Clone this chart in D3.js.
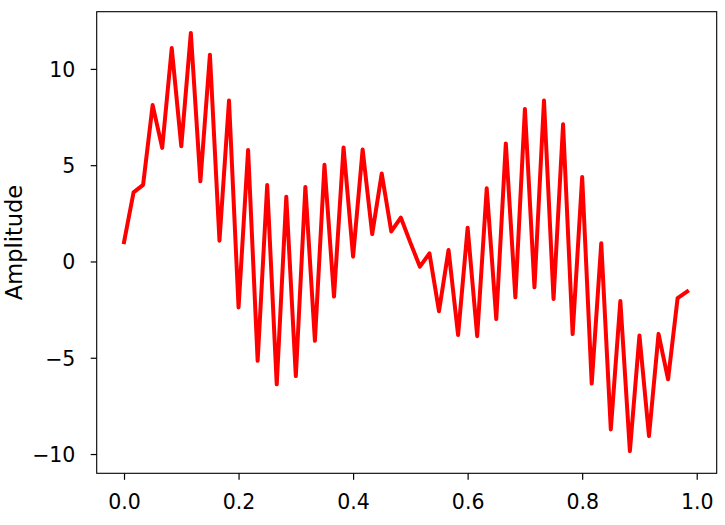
<!DOCTYPE html>
<html>
<head>
<meta charset="utf-8">
<script src="https://cdn.jsdelivr.net/npm/d3@7"></script>
<style>
  html, body { margin: 0; padding: 0; background: #ffffff; }
  svg { display: block; }
  text { font-family: "DejaVu Sans", sans-serif; fill: #000; }
</style>
</head>
<body>
<svg id="chart" width="725" height="525"></svg>
<script>
// ---- data ----
const sampleCount = 60;
const timeValues = d3.range(sampleCount).map(i => i / 60);
const amplitudeValues = [
  1.0, 3.59, 3.98, 8.12, 5.9, 11.08, 5.98, 11.87, 4.16, 10.74,
  1.08, 8.36, -2.39, 5.79, -5.16, 3.97, -6.38, 3.36, -5.95, 3.87,
  -4.12, 5.02, -1.82, 5.92, 0.25, 5.82, 1.42, 4.57, 1.56, 2.28,
  0.98, -0.27, 0.42, -2.58, 0.6, -3.82, 1.75, -3.88, 3.8, -2.99,
  6.13, -1.86, 7.92, -1.34, 8.36, -1.95, 7.12, -3.77, 4.38, -6.34,
  0.95, -8.72, -2.05, -9.85, -3.84, -9.07, -3.76, -6.12, -1.9, -1.56
];
const xTickValues = [0.0, 0.2, 0.4, 0.6, 0.8, 1.0];
const yTickValues = [-10, -5, 0, 5, 10];
const yLabel = "Amplitude";
const xDomain = [-0.0477, 1.0349];
const yDomain = [-11.0, 12.97];

// ---- layout ----
const plot = { left: 96.7, right: 716.7, top: 11.7, bottom: 473.3 };
const svg = d3.select("#chart");

const x = d3.scaleLinear().domain(xDomain).range([plot.left, plot.right]);
const y = d3.scaleLinear().domain(yDomain).range([plot.bottom, plot.top]);

const points = timeValues.map((t, i) => [t, amplitudeValues[i]]);

// clip
svg.append("defs").append("clipPath").attr("id", "clip")
  .append("rect")
  .attr("x", plot.left).attr("y", plot.top)
  .attr("width", plot.right - plot.left).attr("height", plot.bottom - plot.top);

// line
const line = d3.line().x(d => x(d[0])).y(d => y(d[1]));
svg.append("path")
  .datum(points)
  .attr("clip-path", "url(#clip)")
  .attr("d", line)
  .attr("fill", "none")
  .attr("stroke", "#ff0000")
  .attr("stroke-width", 4)
  .attr("stroke-linejoin", "round")
  .attr("stroke-linecap", "square");

const fmtX = d3.format(".1f");
const fmtY = v => (v < 0 ? "\u2212" + Math.abs(v) : String(v));

// x axis
const xAxis = d3.axisBottom(x)
  .tickValues(xTickValues)
  .tickSize(6.5)
  .tickPadding(4)
  .tickFormat(fmtX);
const gx = svg.append("g")
  .attr("transform", `translate(0,${plot.bottom})`)
  .call(xAxis);
gx.select(".domain").remove();
gx.selectAll(".tick line").attr("stroke", "#000").attr("stroke-width", 1.2);
gx.selectAll(".tick text")
  .attr("font-size", "20.5px")
  .attr("font-family", "DejaVu Sans, sans-serif")
  .attr("dy", null)
  .attr("y", 509 - plot.bottom)
  .style("dominant-baseline", "alphabetic");

// y axis
const yAxis = d3.axisLeft(y)
  .tickValues(yTickValues)
  .tickSize(6)
  .tickFormat(fmtY);
const gy = svg.append("g")
  .attr("transform", `translate(${plot.left},0)`)
  .call(yAxis);
gy.select(".domain").remove();
gy.selectAll(".tick line").attr("stroke", "#000").attr("stroke-width", 1.2);
gy.selectAll(".tick text")
  .attr("font-size", "20.5px")
  .attr("font-family", "DejaVu Sans, sans-serif")
  .attr("x", 75.4 - plot.left)
  .attr("dy", "0.36em");

// frame (spines)
svg.append("rect")
  .attr("x", plot.left).attr("y", plot.top)
  .attr("width", plot.right - plot.left).attr("height", plot.bottom - plot.top)
  .attr("fill", "none")
  .attr("stroke", "#000")
  .attr("stroke-width", 1.1);

// y label
svg.append("text")
  .attr("transform", `translate(21.5,${(plot.top + plot.bottom) / 2}) rotate(-90)`)
  .attr("text-anchor", "middle")
  .attr("font-size", "22.5px")
  .text(yLabel);
</script>
</body>
</html>
